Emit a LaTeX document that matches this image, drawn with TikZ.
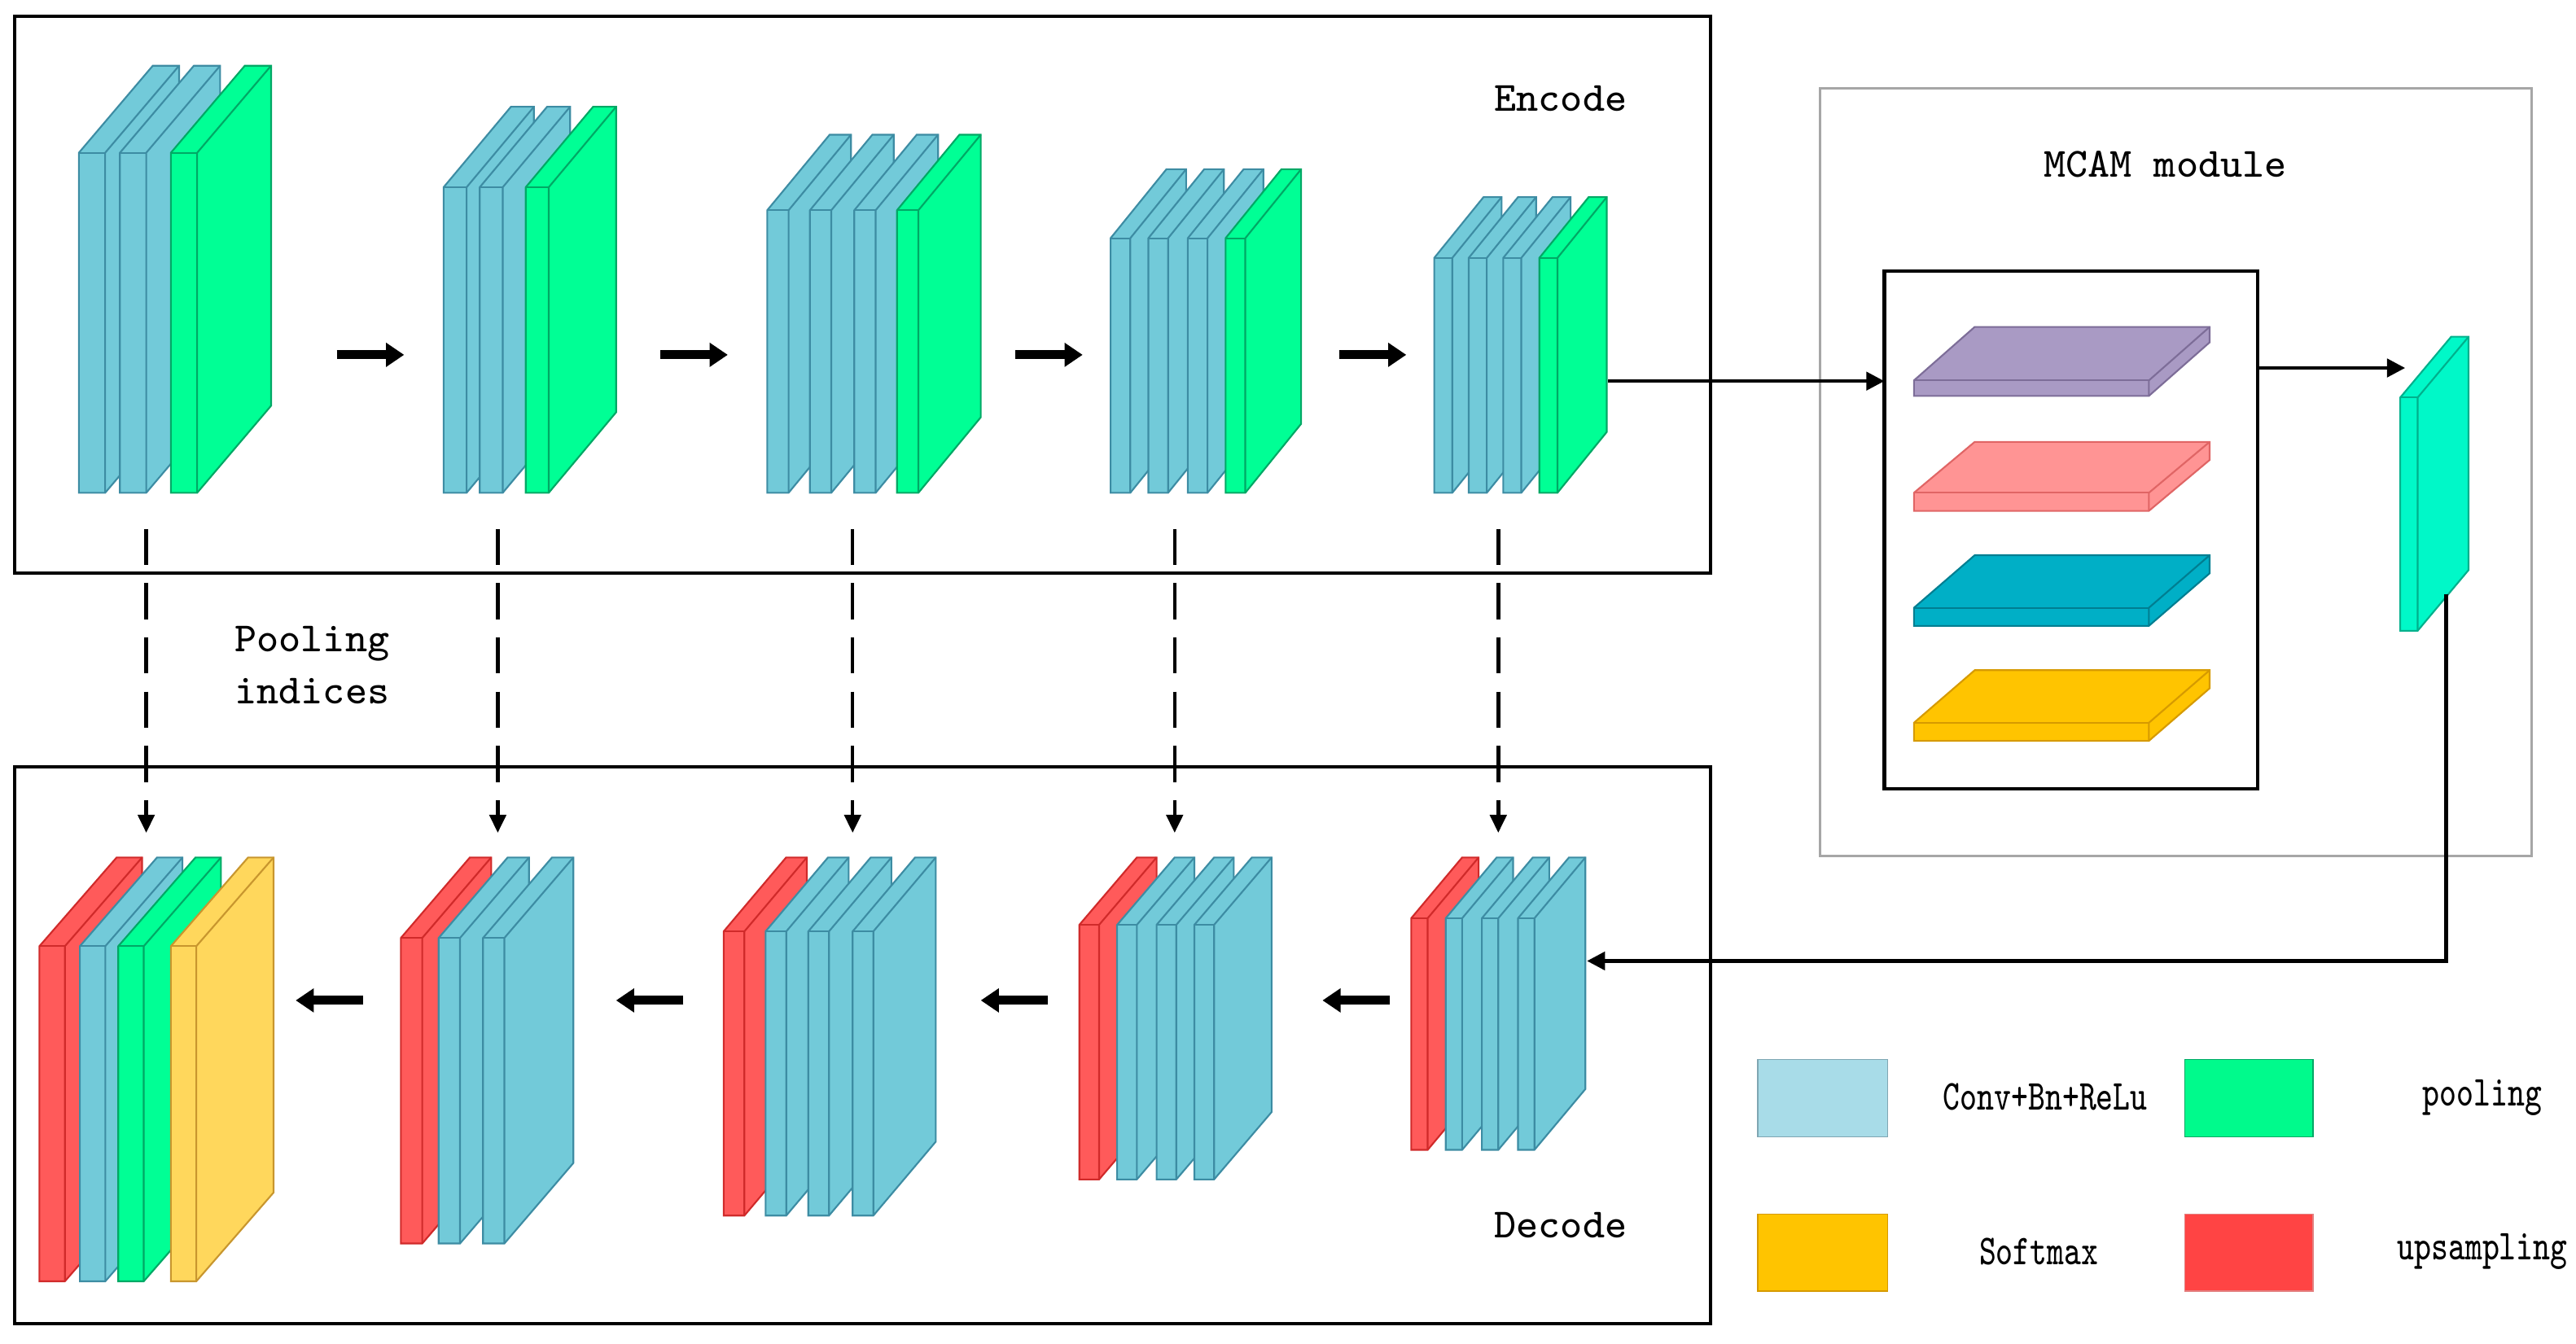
\documentclass[tikz,border=0pt]{standalone}
\usepackage{fontspec}
\usetikzlibrary{arrows.meta}
\definecolor{bl}{HTML}{72CAD9}\definecolor{ble}{HTML}{3D8CA3}
\definecolor{gr}{HTML}{00FF95}\definecolor{gre}{HTML}{00A865}
\definecolor{rd}{HTML}{FF5A5A}\definecolor{rde}{HTML}{D02A2A}
\definecolor{yl}{HTML}{FFD75C}\definecolor{yle}{HTML}{C8962E}
\definecolor{cy}{HTML}{00F8C8}\definecolor{cye}{HTML}{00B08C}
\definecolor{pu}{HTML}{A99AC4}\definecolor{pue}{HTML}{7D6D98}
\definecolor{pk}{HTML}{FF9494}\definecolor{pke}{HTML}{E06565}
\definecolor{tl}{HTML}{00AFC6}\definecolor{tle}{HTML}{007E91}
\definecolor{or}{HTML}{FFC400}\definecolor{ore}{HTML}{D69A00}
\definecolor{lgb}{HTML}{A8DCE8}\definecolor{lgbe}{HTML}{7FA6B2}
\definecolor{lgr}{HTML}{00FA8C}\definecolor{lred}{HTML}{FF4444}
% x yt yb w dx dy fill edge
\newcommand\slab[8]{%
  \filldraw[fill=#7,draw=#8,line width=0.3pt] (#1,#2) -- ++(#5,-#6) -- ++(#4,0) -- ++(0,#3-#2) -- ++(-#5,#6) -- ++(-#4,0) -- cycle;
  \draw[#8,line width=0.3pt] (#1+#4,#3) -- (#1+#4,#2) -- ++(#5,-#6);
  \draw[#8,line width=0.3pt] (#1,#2) -- (#1+#4,#2);}
\begin{document}
\begin{tikzpicture}[x=0.1mm,y=-0.1mm,
  lbl/.style={font=\ttfamily\fontsize{7.2pt}{9pt}\selectfont,align=center},
  leg/.style={font=\ttfamily\fontsize{7.4pt}{9pt}\selectfont,xscale=0.75},
  fat/.style={line width=0.55mm,-{Triangle[length=1.1mm,width=1.4mm]}},
  thin/.style={line width=0.22mm,-{Triangle[length=1.1mm,width=1.1mm]}},
  dsh/.style={line width=0.22mm,dash pattern=on 2.2mm off 1.1mm,-{Triangle[length=1.1mm,width=1mm]}},
  box/.style={draw=black,line width=0.2mm}]
\useasboundingbox (0,0) rectangle (1568,818);
\fill[white] (0,0) rectangle (1568,818);
% frames
\draw[box] (9,10) rectangle (1041,349);
\draw[box] (9,467) rectangle (1041,806);
\draw[draw=gray!70,line width=0.15mm] (1108,54) rectangle (1541,521);
\draw[box] (1147,165) rectangle (1374,480);
\node[lbl] (enc) at (950,60) {Encode};
\node[lbl] (dec) at (950,746) {Decode};
\node[lbl] (mcam) at (1318,100) {MCAM module};
\node[lbl] (pool) at (190,405) {Pooling\\indices};
% encoder
\foreach \xx/\c in {48/bl,73/bl,104/gr} {\slab{\xx}{93}{300}{16}{45}{53}{\c}{\c e}}
\foreach \xx/\c in {270/bl,292/bl,320/gr} {\slab{\xx}{114}{300}{14}{41}{49}{\c}{\c e}}
\foreach \xx/\c in {467/bl,493/bl,520/bl,546/gr} {\slab{\xx}{128}{300}{13}{38}{46}{\c}{\c e}}
\foreach \xx/\c in {676/bl,699/bl,723/bl,746/gr} {\slab{\xx}{145}{300}{12}{34}{42}{\c}{\c e}}
\foreach \xx/\c in {873/bl,894/bl,915/bl,937/gr} {\slab{\xx}{157}{300}{11}{30}{37}{\c}{\c e}}
% decoder
\foreach \xx/\c in {24/rd,48.6/bl,72/gr,104/yl} {\slab{\xx}{576}{780}{15.5}{47}{54}{\c}{\c e}}
\foreach \xx/\c in {244/rd,267/bl,294/bl} {\slab{\xx}{571}{757}{13}{42}{49}{\c}{\c e}}
\foreach \xx/\c in {440.5/rd,466/bl,492/bl,519/bl} {\slab{\xx}{567}{740}{12.6}{38}{45}{\c}{\c e}}
\foreach \xx/\c in {657/rd,680/bl,704/bl,727/bl} {\slab{\xx}{563}{718}{12}{35}{41}{\c}{\c e}}
\foreach \xx/\c in {859/rd,880/bl,902/bl,924/bl} {\slab{\xx}{559}{700}{10}{31}{37}{\c}{\c e}}
% MCAM plates
\slab{1165}{231.6}{241}{143}{37}{32.6}{pu}{pue}
\slab{1165}{300}{311}{143}{37}{31}{pk}{pke}
\slab{1165}{370}{381}{143}{37}{32}{tl}{tle}
\slab{1165}{440}{451}{143}{37}{32}{or}{ore}
\slab{1461}{242}{384}{10.6}{31}{37}{cy}{cye}
% arrows between blocks
\coordinate (e1) at (205,216); \coordinate (e1b) at (246,216);
\coordinate (e2) at (402,216); \coordinate (e2b) at (443,216);
\coordinate (e3) at (618,216); \coordinate (e3b) at (659,216);
\coordinate (e4) at (815,216); \coordinate (e4b) at (856,216);
\foreach \a/\b in {e1/e1b,e2/e2b,e3/e3b,e4/e4b} \draw[fat] (\a) -- (\b);
\coordinate (d1) at (221,609); \coordinate (d1b) at (180,609);
\coordinate (d2) at (416,609); \coordinate (d2b) at (375,609);
\coordinate (d3) at (638,609); \coordinate (d3b) at (597,609);
\coordinate (d4) at (846,609); \coordinate (d4b) at (805,609);
\foreach \a/\b in {d1/d1b,d2/d2b,d3/d3b,d4/d4b} \draw[fat] (\a) -- (\b);
% pooling indices
\foreach \n/\xx in {1/89,2/303,3/519,4/715,5/912} {
  \coordinate (p\n) at (\xx,322); \coordinate (q\n) at (\xx,507);
  \draw[dsh] (p\n) -- (q\n);}
% MCAM connections
\coordinate (b5) at (979,232); \coordinate (inl) at (1147,232);
\draw[thin] (b5) -- (inl);
\coordinate (inr) at (1374,224); \coordinate (cyl) at (1464,224);
\draw[thin] (inr) -- (cyl);
\coordinate (cyb) at (1489,362); \coordinate (d5r) at (966,585);
\draw[thin] (cyb) |- (d5r);
% legend
\filldraw[fill=lgb,draw=lgbe,line width=0.2pt] (1070,645) rectangle (1149,692);
\filldraw[fill=lgr,draw=gre,line width=0.2pt] (1330,645) rectangle (1408,692);
\filldraw[fill=or,draw=ore,line width=0.2pt] (1070,739) rectangle (1149,786);
\filldraw[fill=lred,draw=rde!60,line width=0.2pt] (1330,739) rectangle (1408,786);
\node[leg] (l1) at (1245,668) {Conv+Bn+ReLu};
\node[leg] (l2) at (1511,668) {pooling};
\node[leg] (l3) at (1241,762) {Softmax};
\node[leg] (l4) at (1511,762) {upsampling};
\end{tikzpicture}
\end{document}
